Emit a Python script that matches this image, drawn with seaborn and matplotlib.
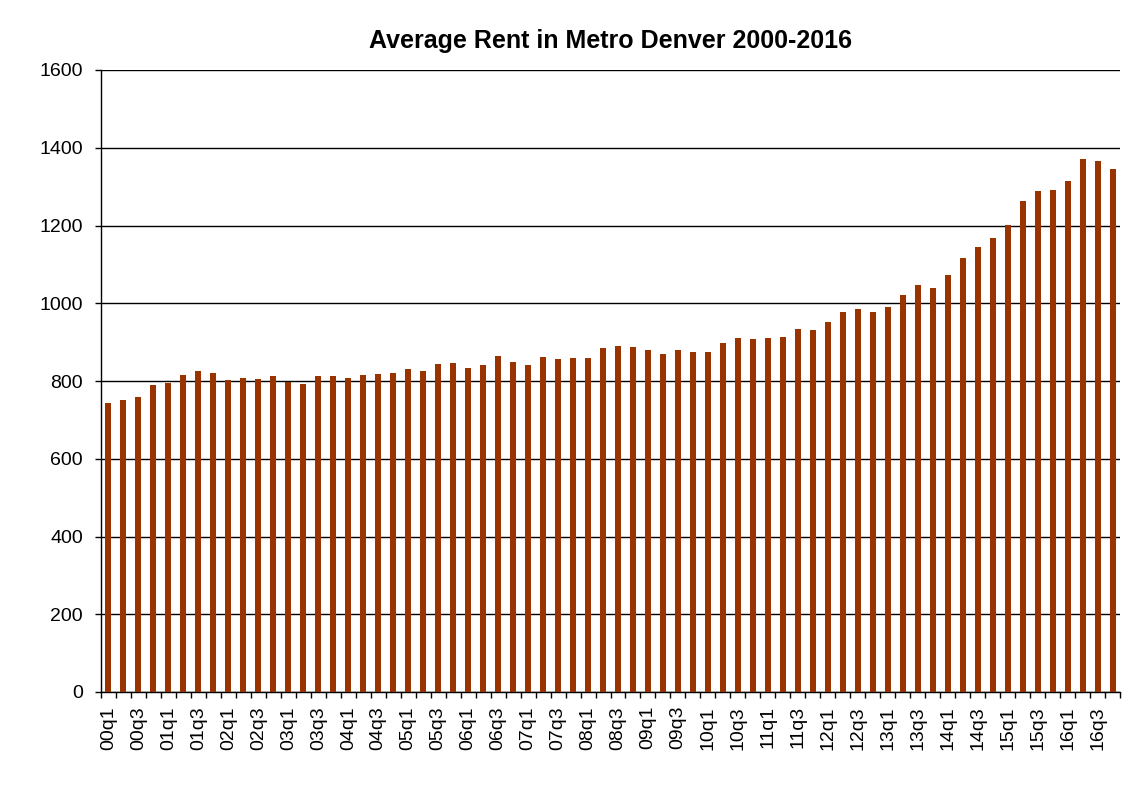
import numpy as np
import pandas as pd
import matplotlib
matplotlib.use('Agg')
import matplotlib.pyplot as plt
import seaborn as sns

# quarterly average rent, 2000q1 .. 2016q4
years = [f"{y:02d}" for y in range(0, 17)]
quarters = [f"{y}q{q}" for y in years for q in range(1, 5)]
rent = [743, 751, 759, 790, 795, 815, 826, 821,
        803, 808, 806, 813, 798, 792, 813, 813,
        808, 815, 818, 821, 831, 826, 844, 846,
        834, 841, 864, 849, 841, 862, 857, 859,
        859, 885, 890, 887, 880, 869, 880, 875,
        875, 898, 911, 908, 911, 913, 934, 931,
        952, 977, 985, 977, 990, 1021, 1047, 1039,
        1073, 1117, 1145, 1168, 1202, 1263, 1289, 1292,
        1315, 1371, 1366, 1346]

df = pd.DataFrame({'quarter': quarters, 'rent': rent})

sns.set_style('white')
plt.rcParams['font.family'] = ['Liberation Sans', 'DejaVu Sans']
plt.rcParams['text.color'] = 'black'
plt.rcParams['xtick.color'] = 'black'
plt.rcParams['ytick.color'] = 'black'

fig = plt.figure(figsize=(11.46, 7.99), dpi=100)
ax = fig.add_axes([101 / 1146, (799 - 692) / 799, (1120 - 101) / 1146, (692 - 70) / 799])

sns.barplot(data=df, x='quarter', y='rent', color='#993300', width=0.4,
            saturation=1, linewidth=0, edgecolor='#993300', ax=ax, zorder=3)

ax.set_xlim(-0.5, len(quarters) - 0.5)
ax.set_ylim(0, 1600)
ax.set_yticks(range(0, 1601, 200))
ax.yaxis.grid(True, color='black', linewidth=1, zorder=0)
ax.set_axisbelow(True)

pos = np.arange(len(quarters))
ax.set_xticks(pos[::2])
ax.set_xticklabels(quarters[::2], rotation=90)
ax.set_xticks(np.arange(-0.5, len(quarters), 1), minor=True)
ax.tick_params(axis='x', which='major', length=0, labelsize=14, pad=10, labelcolor='black')
ax.tick_params(axis='x', which='minor', length=4, width=1, color='black', direction='out')
ax.tick_params(axis='y', length=4, width=1, color='black', direction='out', labelsize=14, pad=9,
               labelcolor='black')
ax.tick_params(bottom=True, left=True, which='both')

for s in ['top', 'right']:
    ax.spines[s].set_visible(False)
for s in ['left', 'bottom']:
    ax.spines[s].set_color('black')
    ax.spines[s].set_linewidth(1)

ax.set_xlabel('')
ax.set_ylabel('')
ax.set_title('Average Rent in Metro Denver 2000-2016', fontsize=18, fontweight='bold',
             color='black', pad=16)

fig.savefig('out.png', dpi=100)
